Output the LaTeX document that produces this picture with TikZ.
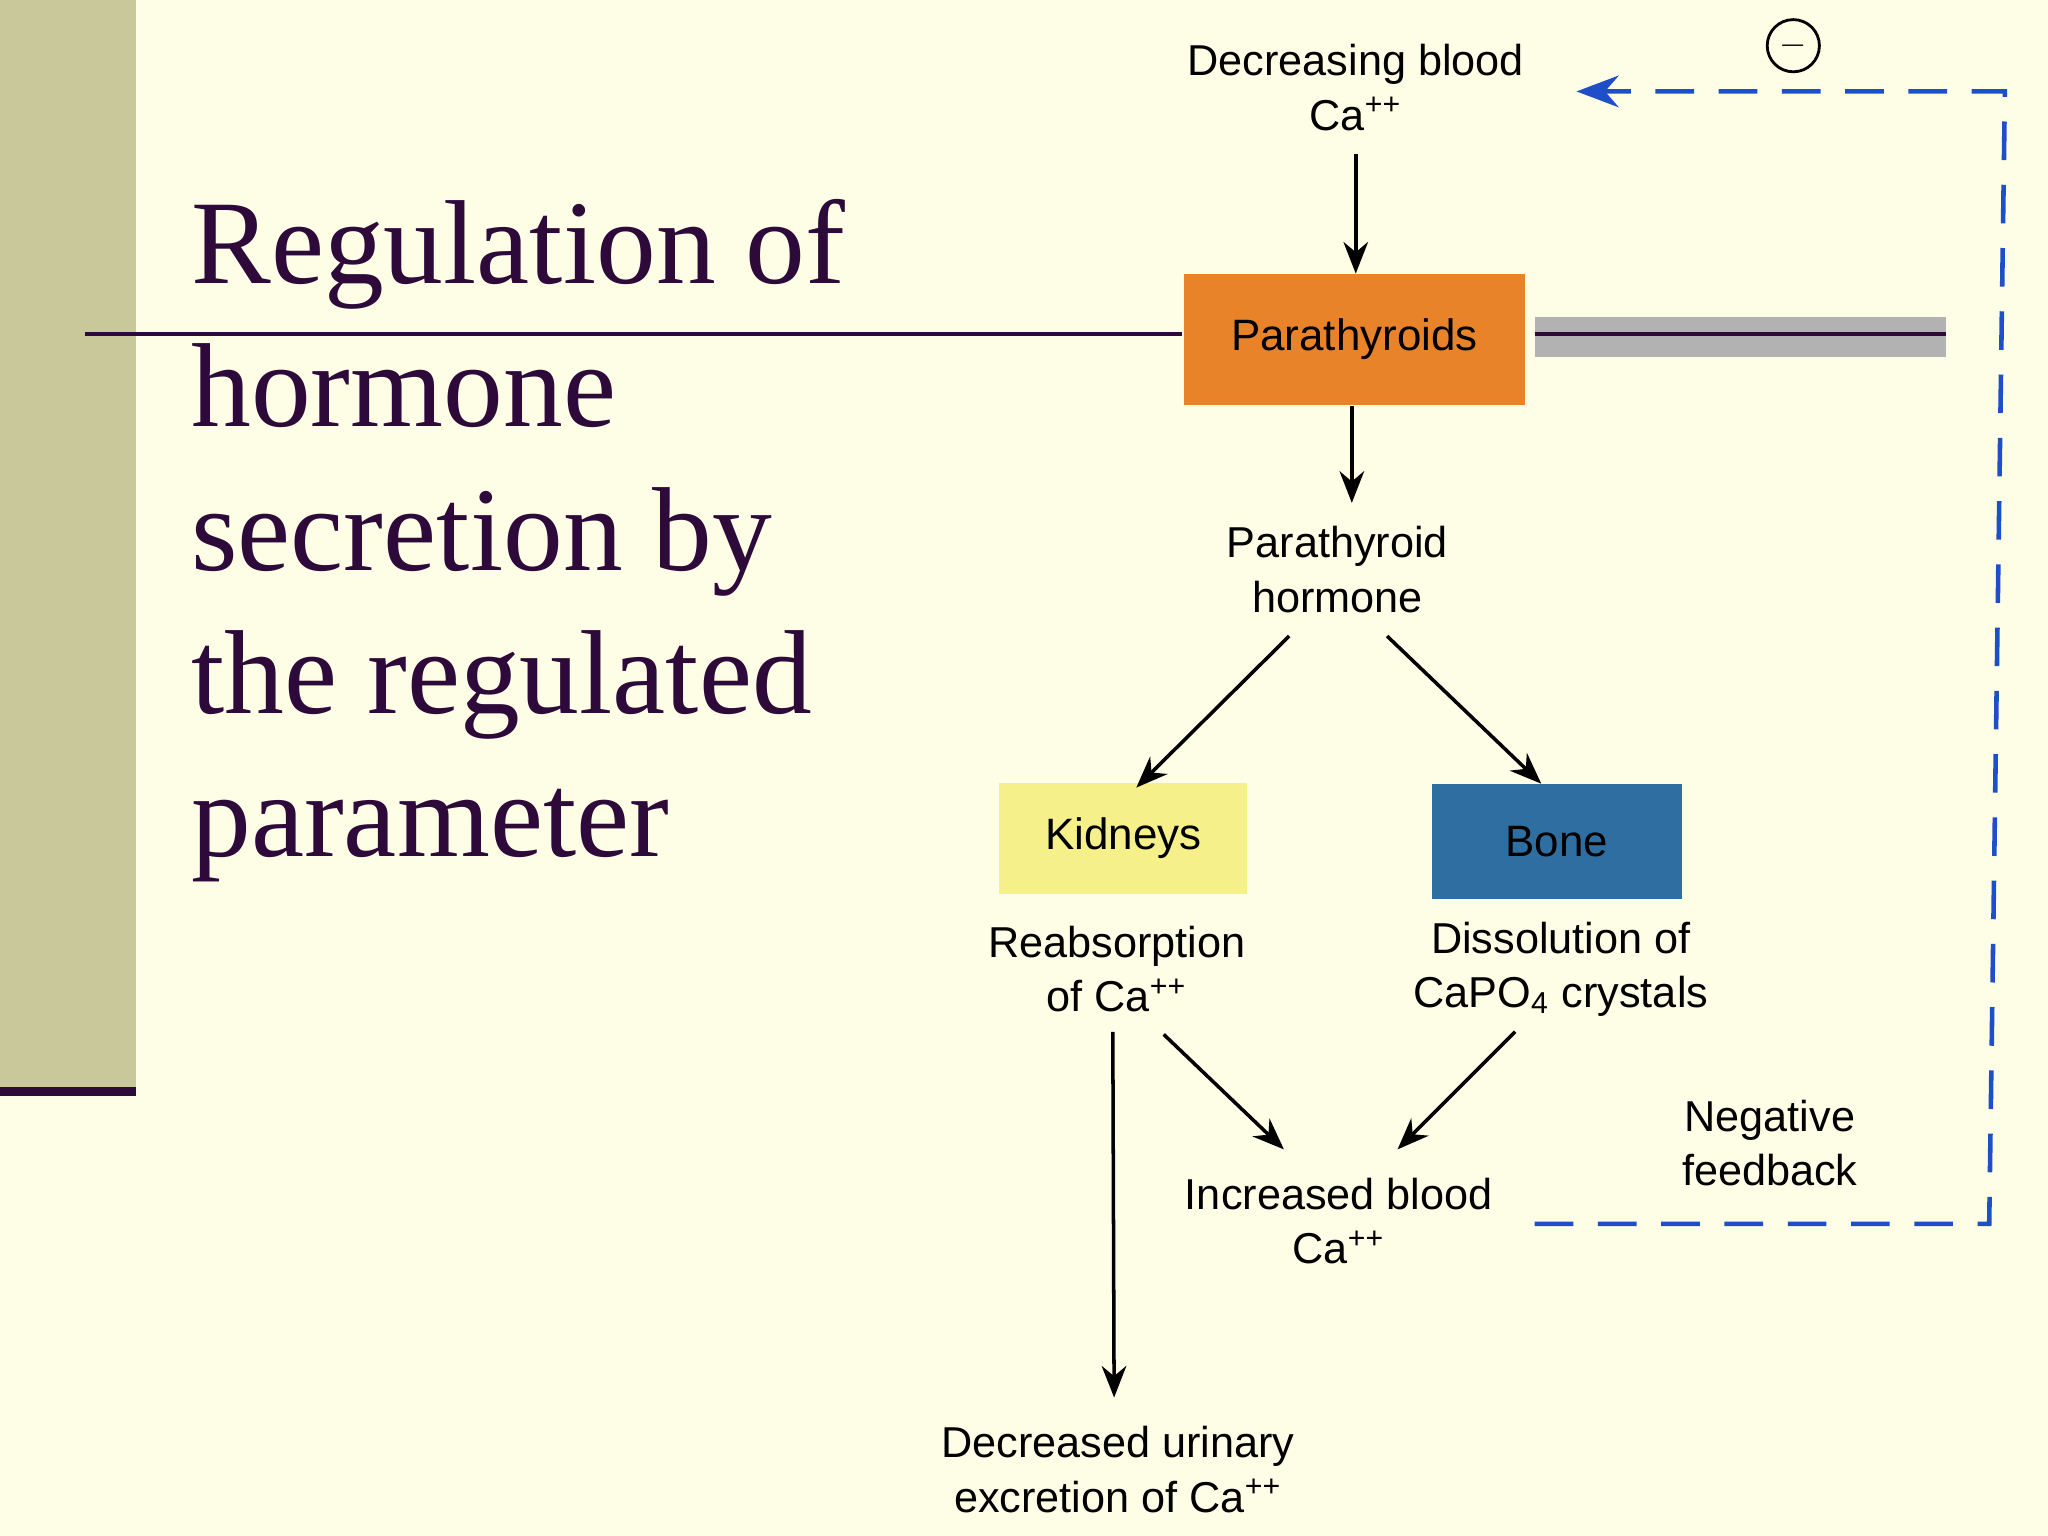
\documentclass[tikz,border=0pt]{standalone}
\usepackage{fontspec}
\setmainfont{Liberation Sans}
\newfontfamily\titlefont{Liberation Serif}
\usetikzlibrary{arrows.meta}
\definecolor{bg}{HTML}{FEFDE6}
\definecolor{olive}{HTML}{C8C89A}
\definecolor{plum}{HTML}{2D0A3A}
\definecolor{fb}{HTML}{1F4FC8}
\definecolor{orng}{RGB}{232,131,42}
\definecolor{yel}{RGB}{245,240,138}
\definecolor{blu}{RGB}{47,110,160}
\newcommand{\pp}{\textsuperscript{++}}
\begin{document}
\begin{tikzpicture}[x=0.013061cm,y=-0.013061cm,
  lbl/.style={align=center,font=\fontsize{12.3}{15.5}\selectfont,inner sep=0pt},
  box/.style={inner sep=0pt,font=\fontsize{12.5}{14}\selectfont},
  arr/.style={-{Stealth[length=9pt,width=7pt]},line width=1pt},
  fbk/.style={fb,line width=1.3pt,dash pattern=on 11pt off 7pt}]
\fill[bg] (0,0) rectangle (1568,1176);
\useasboundingbox (0,0) rectangle (1568,1176);
\fill[olive] (0,0) rectangle (104,832);
\fill[plum] (0,832) rectangle (104,839);
\fill[gray!60] (1175,243) rectangle (1490,273);
\draw[plum,line width=1.2pt] (65,256) -- (905,256);
\draw[plum,line width=1.2pt] (1175,256) -- (1490,256);
\node[anchor=north west,align=left,text=plum,inner sep=0pt,font=\titlefont\fontsize{34}{40.8}\selectfont] (title) at (146,152)
 {Regulation of\\hormone\\secretion by\\the regulated\\parameter};
\node[box,fill=orng,minimum width=3.409cm,minimum height=1.306cm] (para) at (1037,260) {Parathyroids};
\node[box,fill=yel,minimum width=2.482cm,minimum height=1.110cm] (kid) at (860,642) {Kidneys};
\node[box,fill=blu,minimum width=2.508cm,minimum height=1.149cm] (bone) at (1192,644) {Bone};
\node[lbl] (dec) at (1038,67) {Decreasing blood\\Ca\pp};
\node[lbl] (pth) at (1024,436) {Parathyroid\\hormone};
\node[lbl] (reab) at (855,742) {Reabsorption\\of Ca\pp};
\node[lbl] (diss) at (1195,742) {Dissolution of\\CaPO\textsubscript{4} crystals};
\node[lbl] (inc) at (1025,935) {Increased blood\\Ca\pp};
\node[lbl] (uri) at (856,1125) {Decreased urinary\\excretion of Ca\pp};
\node[lbl] (neg) at (1355,875) {Negative\\feedback};
\node[circle,draw,line width=0.8pt,minimum size=0.522cm,inner sep=0pt] (minus) at (1373,35) {$-$};
\draw[arr] (1038,118) -- (para.north -| 1038,0);
\draw[arr] (para.south -| 1035,0) -- (1035,385);
\draw[arr] (987,487) -- (870,603);
\draw[arr] (1062,487) -- (1180,600);
\draw[arr] (852,790) -- (853,1070);
\draw[arr] (891,792) -- (983,880);
\draw[arr] (1160,790) -- (1070,880);
\coordinate (f1) at (1175,937);
\coordinate (f2) at (1523,937);
\coordinate (f3) at (1535,70);
\coordinate (f4) at (1207,70);
\draw[fbk,-{Stealth[length=12pt,width=9pt]}] (f1) -- (f2) -- (f3) -- (f4);
\end{tikzpicture}
\end{document}
